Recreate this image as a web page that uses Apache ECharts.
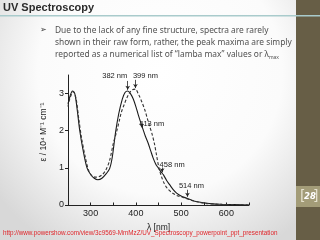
<!DOCTYPE html>
<html>
<head>
<meta charset="utf-8">
<script src="https://cdn.jsdelivr.net/npm/echarts@6/dist/echarts.min.js"></script>
<style>
  html, body { margin: 0; padding: 0; }
  #main { width: 320px; height: 240px; }
</style>
</head>
<body>
<div id="main"></div>
<script>
  // solid spectrum [nm, eps]
  var solidNm = [250, 255, 260, 265, 270, 276, 283, 292, 300, 308, 316, 325, 335, 342, 348, 355, 362, 370, 376, 382,
    388, 394, 400, 405, 410, 416, 421, 427, 433, 438, 444, 450, 455, 461, 468, 475, 482, 490, 500, 513,
    530, 550, 570, 590, 620, 650];
  var solidEps = [2.72, 2.95, 3.07, 3.0, 2.6, 2.0, 1.5, 1.0, 0.82, 0.72, 0.68, 0.72, 0.85, 0.98, 1.3, 1.95, 2.45, 2.85, 3.03, 3.07,
    3.0, 2.86, 2.65, 2.44, 2.25, 2.03, 1.85, 1.67, 1.45, 1.27, 1.1, 0.99, 0.9, 0.81, 0.66, 0.54, 0.42, 0.32, 0.24, 0.18,
    0.1, 0.06, 0.03, 0.02, 0.01, 0.0];
  // dashed spectrum [nm, eps]
  var dashNm = [250, 255, 262, 268, 274, 280, 288, 295, 302, 310, 318, 326, 334, 342, 350, 358, 363, 368, 374, 380,
    386, 392, 399, 405, 409, 414, 420, 426, 431, 436, 441, 446, 451, 457, 463, 470, 480, 490, 505, 530,
    550, 580, 620, 650];
  var dashEps = [2.65, 2.9, 3.05, 2.85, 2.3, 1.8, 1.3, 0.95, 0.8, 0.75, 0.76, 0.82, 0.95, 1.2, 1.65, 2.0, 2.25, 2.5, 2.7, 2.88,
    3.02, 3.1, 3.12, 3.0, 2.9, 2.75, 2.55, 2.3, 2.1, 1.9, 1.65, 1.32, 1.0, 0.75, 0.57, 0.44, 0.33, 0.26, 0.2, 0.1,
    0.05, 0.02, 0.01, 0.0];
  // annotated maxima
  var peakNm = [382, 399, 413, 458, 514];
  var peakEps = [3.07, 3.12, 2.05, 0.85, 0.19];
  var peakText = ['382 nm', '399 nm', '413 nm', '458 nm', '514 nm'];
  var xTicks = [300, 400, 500, 600];
  var yTicks = [0, 1, 2, 3];

  function pairs(xs, ys) {
    return xs.map(function (x, i) { return [x, ys[i]]; });
  }

  // label offsets relative to arrow top
  var labelOffsets = [[-13, -5], [10, -4], [10, 0], [10, -3], [4, -4]];
  var arrowTop = [0.27, 0.25, 0.14, 0.16, 0.22];

  var arrows = peakNm.map(function (nm, i) {
    return [{ coord: [nm, peakEps[i] + arrowTop[i]] }, { coord: [nm, peakEps[i] + 0.03] }];
  });
  var labels = peakNm.map(function (nm, i) {
    return {
      coord: [nm, peakEps[i] + arrowTop[i]],
      label: { formatter: peakText[i], offset: labelOffsets[i] }
    };
  });

  var chart = echarts.init(document.getElementById('main'), null, { renderer: 'canvas' });
  var axisFont = 'Liberation Sans';
  var option = {
    animation: false,
    backgroundColor: {
      type: 'radial', x: 0.5, y: 0.3, r: 0.85,
      colorStops: [{ offset: 0, color: '#ffffff' }, { offset: 0.6, color: '#fbfbfb' }, { offset: 1, color: '#d8d8d8' }]
    },
    graphic: [
      { type: 'rect', shape: { x: 296, y: 0, width: 24, height: 240 }, style: { fill: '#675e46' }, z: 0 },
      { type: 'rect', shape: { x: 0, y: 15, width: 320, height: 1.5 }, style: { fill: '#a9cbcc' }, z: 1 },
      { type: 'rect', shape: { x: 296, y: 186, width: 24, height: 21 }, style: { fill: '#a39c78' }, z: 1 },
      { type: 'text', left: 300, top: 189, style: { text: '[', fill: '#e4e0cc', font: '14px "DejaVu Sans"' }, z: 2 },
      { type: 'text', left: 313, top: 189, style: { text: ']', fill: '#e4e0cc', font: '14px "DejaVu Sans"' }, z: 2 },
      { type: 'text', left: 304, top: 192, style: { text: '28', fill: '#ffffff', font: 'italic bold 8.5px "DejaVu Sans"' }, z: 2 },
      { type: 'text', left: 3, top: 2, style: { text: 'UV Spectroscopy', fill: '#2b2b2b', font: 'bold 11px "Liberation Sans"' }, z: 2 },
      { type: 'text', left: 40, top: 26, style: { text: '➢', fill: '#333333', font: '8px "DejaVu Sans"' }, z: 2 },
      {
        type: 'text', left: 55, top: 25,
        style: {
          text: 'Due to the lack of any fine structure, spectra are rarely\nshown in their raw form, rather, the peak maxima are simply\nreported as a numerical list of “lamba max” values or λ{sub|max}',
          fill: '#505050', font: '8.4px "Noto Sans"', lineHeight: 12,
          rich: { sub: { fontSize: 5, fontFamily: 'Noto Sans', fill: '#505050', padding: [5, 0, 0, 0] } }
        }, z: 2
      },
      { type: 'text', left: 3, top: 230, style: { text: 'http://www.powershow.com/view/3c9569-MmMzZ/UV_Spectroscopy_powerpoint_ppt_presentation', fill: '#e0262b', font: '6.3px "Liberation Sans"' }, z: 2 }
    ],
    grid: { left: 68, right: 71, top: 75, bottom: 35 },
    xAxis: {
      type: 'value', min: 250, max: 650, interval: 50,
      name: 'λ [nm]', nameLocation: 'middle', nameGap: 13,
      nameTextStyle: { fontFamily: axisFont, fontSize: 8.5, color: '#222' },
      axisLine: { lineStyle: { color: '#222', width: 1 } },
      axisTick: { inside: true, length: 2.5, lineStyle: { color: '#222' } },
      axisLabel: {
        fontFamily: axisFont, fontSize: 9, color: '#222', margin: 4,
        formatter: function (v) { return xTicks.indexOf(v) >= 0 ? String(v) : ''; }
      },
      splitLine: { show: false }
    },
    yAxis: {
      type: 'value', min: 0, max: 3.5, interval: 1,
      name: 'ε / 10⁴ M⁻¹ cm⁻¹', nameLocation: 'middle', nameRotate: 90, nameGap: 15,
      nameTextStyle: { fontFamily: axisFont, fontSize: 8.5, color: '#222', padding: [0, 0, 0, 16] },
      axisLine: { show: true, lineStyle: { color: '#222', width: 1 } },
      axisTick: { show: true, length: 3, lineStyle: { color: '#222' }, customValues: yTicks },
      axisLabel: {
        fontFamily: axisFont, fontSize: 9, color: '#222', margin: 4, customValues: yTicks,
        formatter: function (v) { return yTicks.indexOf(v) >= 0 ? String(v) : ''; }
      },
      splitLine: { show: false }
    },
    series: [
      {
        name: 'solid', type: 'line', smooth: 0.3, symbol: 'none',
        data: pairs(solidNm, solidEps),
        lineStyle: { color: '#1a1a1a', width: 1.1 },
        markLine: {
          silent: true, symbol: ['none', 'arrow'], symbolSize: [3.5, 4],
          lineStyle: { color: '#222', width: 0.8, type: 'solid' },
          label: { show: false },
          data: arrows
        },
        markPoint: {
          silent: true, symbol: 'circle', symbolSize: 0,
          label: { show: true, position: 'inside', color: '#222', fontFamily: axisFont, fontSize: 7.5 },
          data: labels
        }
      },
      {
        name: 'dashed', type: 'line', smooth: 0.3, symbol: 'none',
        data: pairs(dashNm, dashEps),
        lineStyle: { color: '#333', width: 1.1, type: [3, 2] }
      }
    ]
  };
  chart.setOption(option);
</script>
</body>
</html>
